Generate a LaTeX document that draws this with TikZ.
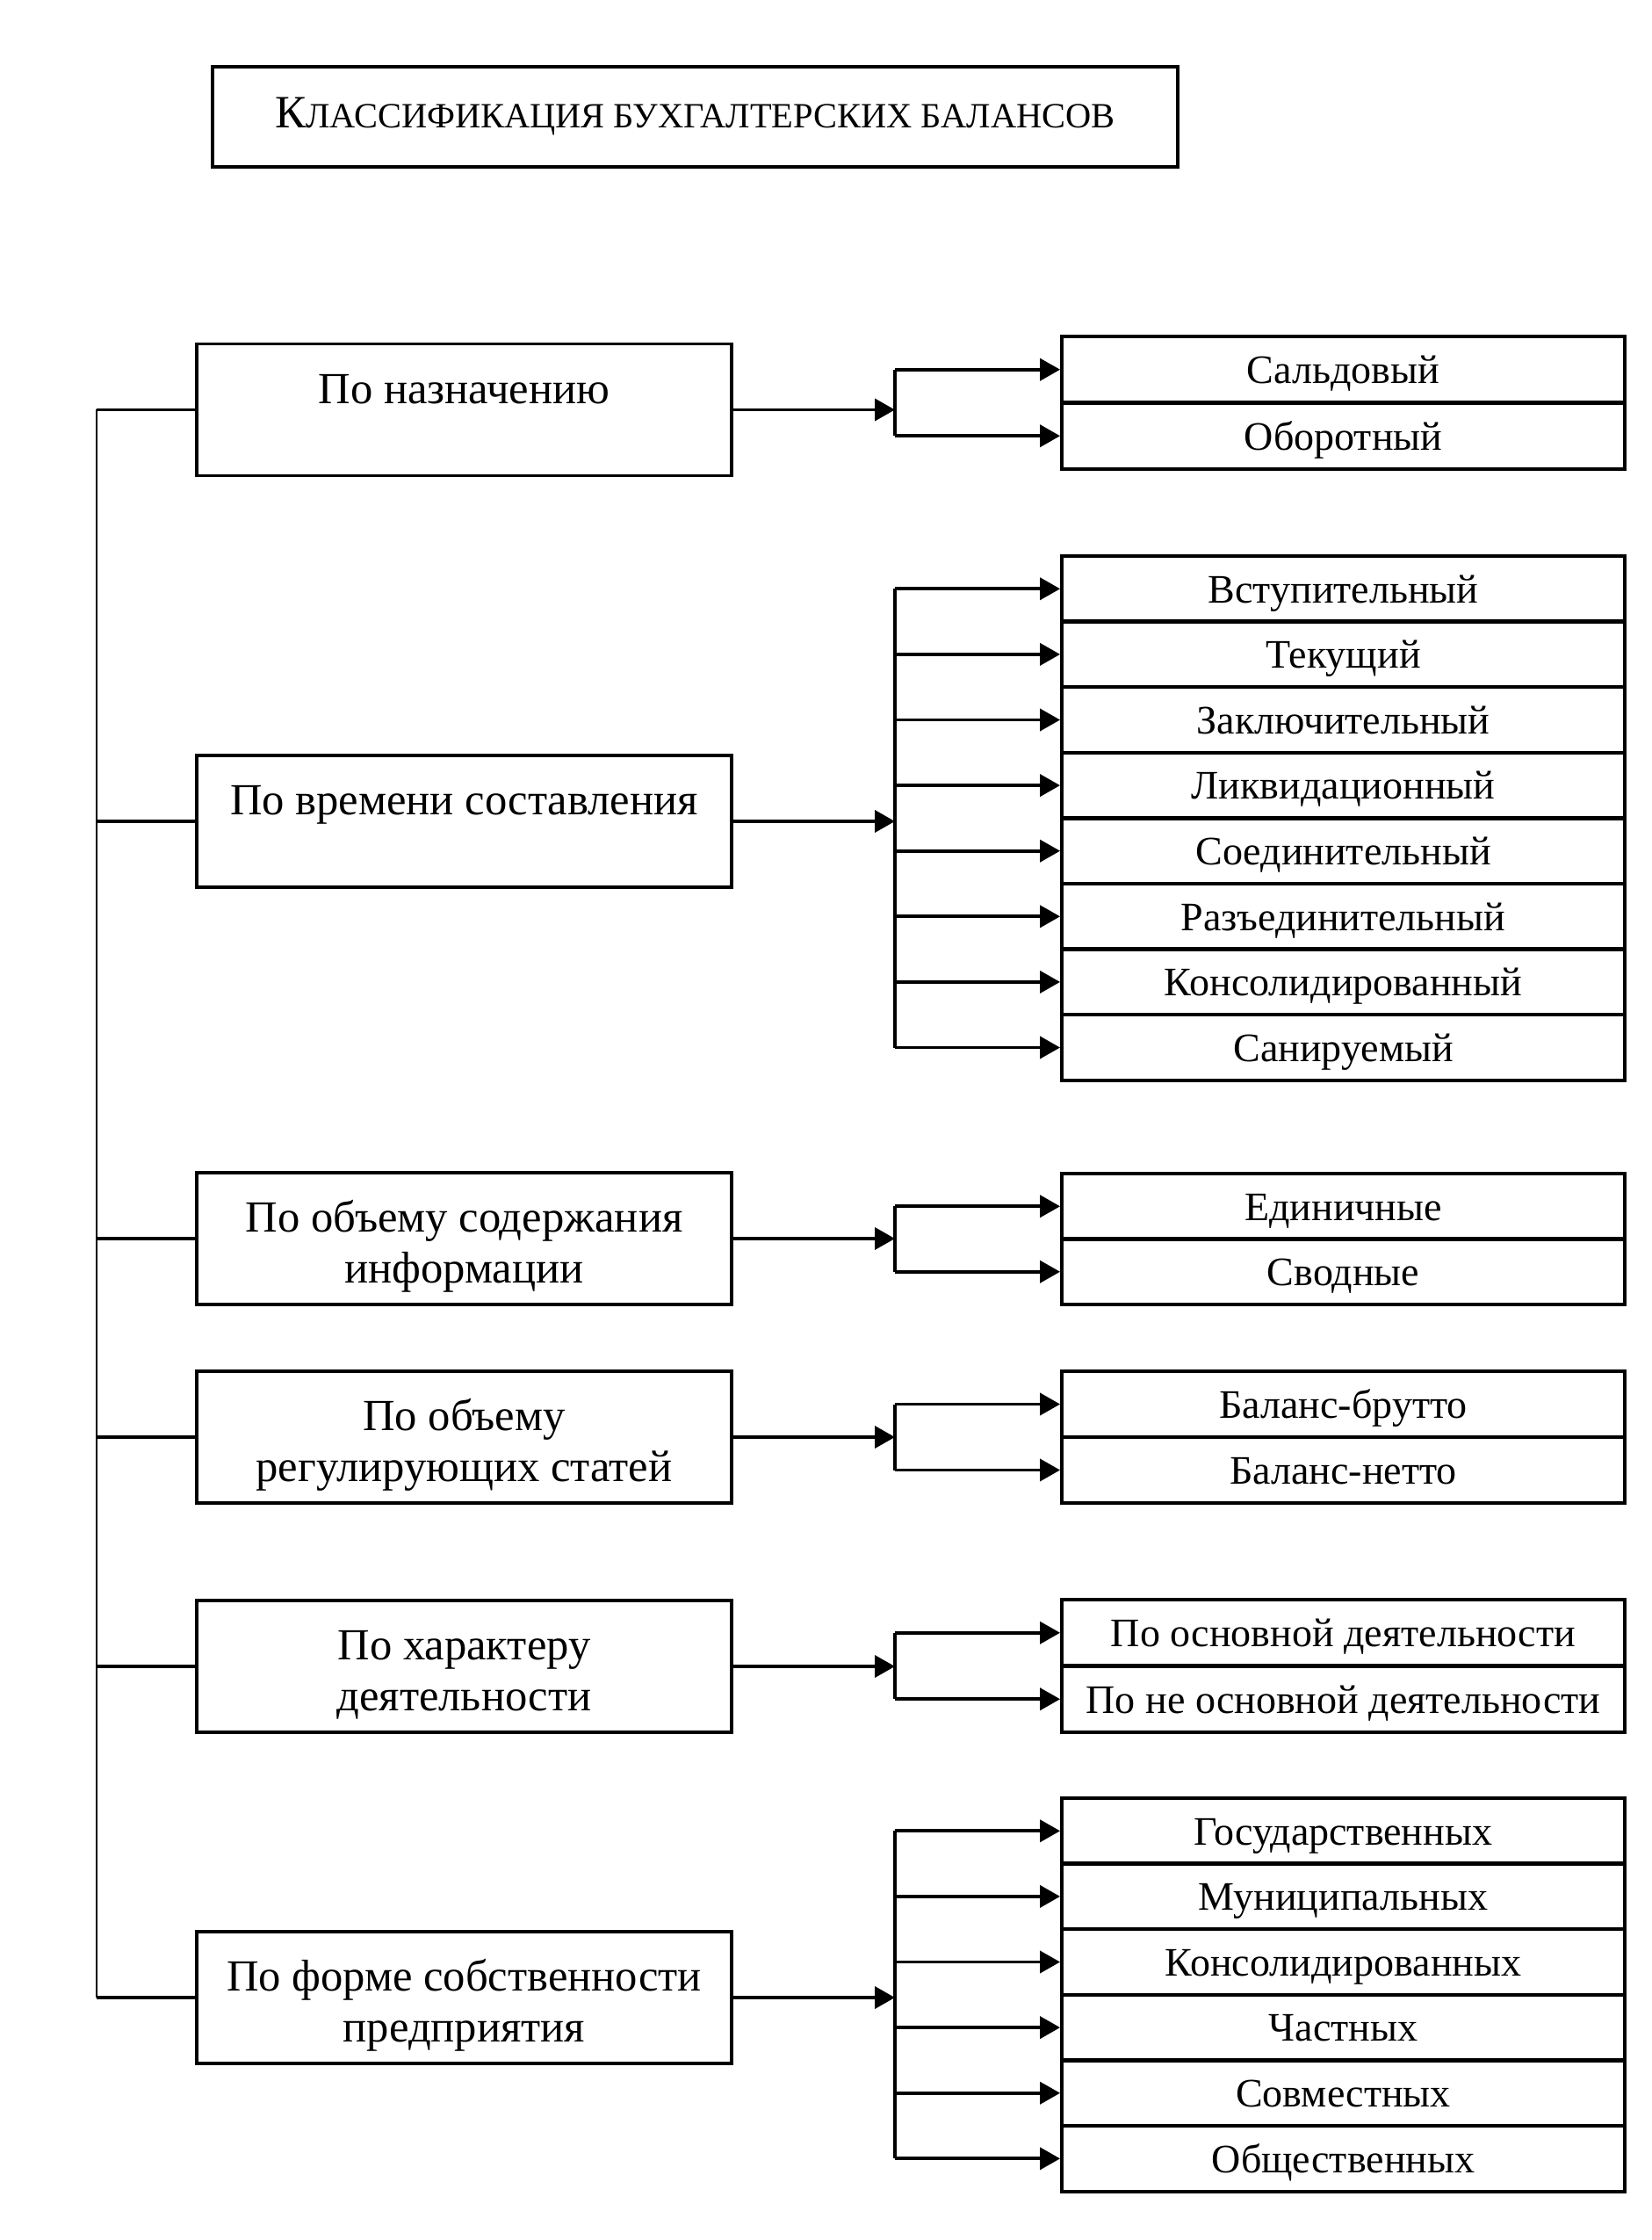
\documentclass[tikz,border=0pt]{standalone}
\usepackage{fontspec}
\setmainfont{Liberation Serif}
\usetikzlibrary{arrows.meta}

\tikzset{
  cat/.style={draw,line width=1.1pt,minimum width=6.09cm,minimum height=1.5cm,align=center,inner sep=0pt,
    text height=29pt,text depth=0pt,font=\fontsize{14.4}{16.6}\selectfont},
  kind/.style={draw,line width=1.1pt,minimum width=6.41cm,minimum height=.75cm,inner sep=0pt,
    text height=10pt,text depth=1pt,font=\fontsize{13.1}{15}\selectfont},
}

\begin{document}
\begin{tikzpicture}[y=-1cm,>={Triangle[length=2.3mm,width=2.5mm]},line width=1.1pt]
  \useasboundingbox (0,0) rectangle (18.8,25.5);
  % title
  \node[draw,minimum width=10.99cm,minimum height=1.14cm,inner sep=0pt] (title) at (7.915,1.33)
    {\raisebox{.8mm}{{\fontsize{15}{18}\selectfont К}{\fontsize{11.5}{14}\selectfont ЛАССИФИКАЦИЯ БУХГАЛТЕРСКИХ БАЛАНСОВ}}};
  % criteria
  \node[cat] (cat1) at (5.285,4.665) {По назначению\\\mbox{}};
  \node[cat] (cat2) at (5.285,9.35) {По времени составления\\\mbox{}};
  \node[cat] (cat3) at (5.285,14.10) {По объему содержания\\информации};
  \node[cat] (cat4) at (5.285,16.36) {По объему\\регулирующих статей};
  \node[cat] (cat5) at (5.285,18.97) {По характеру\\деятельности};
  \node[cat] (cat6) at (5.285,22.74) {По форме собственности\\предприятия};
  % kinds of balance
  \foreach \t [count=\i] in {Сальдовый,Оборотный}
    \node[kind] (k1-\i) at (15.295,3.83+\i*.755-.3775) {\t};
  \foreach \t [count=\i] in {Вступительный,Текущий,Заключительный,Ликвидационный,
      Соединительный,Разъединительный,Консолидированный,Санируемый}
    \node[kind] (k2-\i) at (15.295,6.33+\i*.746-.373) {\t};
  \foreach \t [count=\i] in {Единичные,Сводные}
    \node[kind] (k3-\i) at (15.295,13.36+\i*.745-.3725) {\t};
  \foreach \t [count=\i] in {Баланс-брутто,Баланс-нетто}
    \node[kind] (k4-\i) at (15.295,15.61+\i*.75-.375) {\t};
  \foreach \t [count=\i] in {По основной деятельности,По не основной деятельности}
    \node[kind] (k5-\i) at (15.295,18.21+\i*.755-.3775) {\t};
  \foreach \t [count=\i] in {Государственных,Муниципальных,Консолидированных,Частных,
      Совместных,Общественных}
    \node[kind] (k6-\i) at (15.295,20.47+\i*.746-.373) {\t};
  % spine and brackets
  \coordinate (sp) at (1.10,0);
  \coordinate (br) at (10.19,0);
  \draw[line width=.8pt] (cat1.west -| sp) -- (cat6.west -| sp);
  \foreach \g/\n in {1/2,2/8,3/2,4/2,5/2,6/6} {
    \draw (cat\g.west) -- (cat\g.west -| sp);
    \draw[->] (cat\g.east) -- (cat\g.east -| br);
    \draw (k\g-1.west -| br) -- (k\g-\n.west -| br);
    \foreach \i in {1,...,\n} \draw[->] (k\g-\i.west -| br) -- (k\g-\i.west);
  }
\end{tikzpicture}
\end{document}
